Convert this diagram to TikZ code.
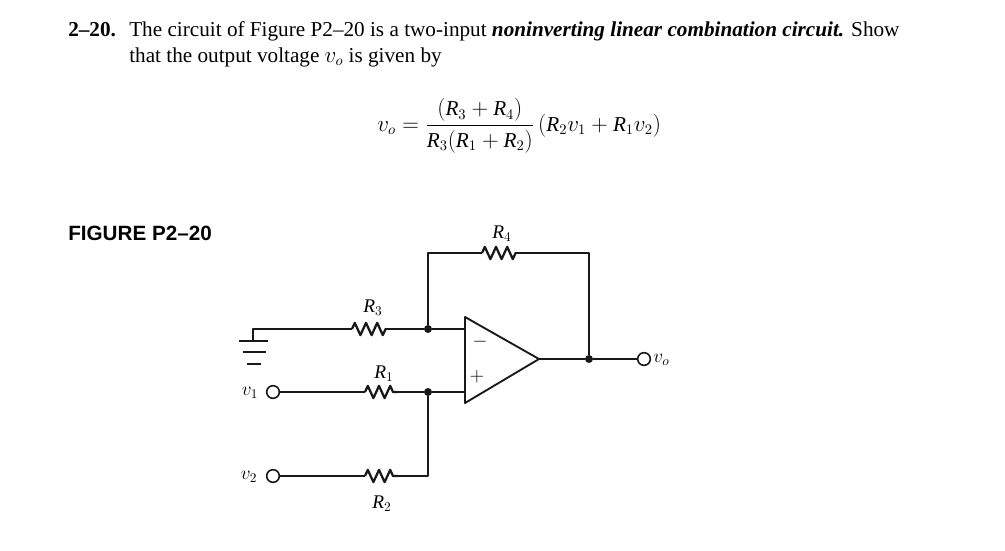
\documentclass[tikz,border=0pt]{standalone}
\usepackage{amsmath}
\usepackage{fontspec}
\setmainfont{Liberation Serif}
\setsansfont{Liberation Sans}
\usetikzlibrary{decorations.pathmorphing}
\newcommand{\Rn}[1]{\mathit{R}_{#1}}

\begin{document}
\begin{tikzpicture}[x=0.75pt,y=-0.75pt]
  \fill[white] (0,0) rectangle (1005,550);
  \useasboundingbox (0,0) rectangle (1005,550);

  %stili
  \tikzset{wire/.style={-, black!90, line width=1.2pt, line join=round}}
  \tikzset{res/.style={wire, line width=1.7pt, decorate, decoration={zigzag, segment length=8.4pt, amplitude=4.6pt}}}
  \tikzset{dot/.style={circle, fill=black!90, inner sep=0pt, minimum size=6pt}}
  \tikzset{port/.style={circle, draw=black!90, fill=white, line width=1.2pt, inner sep=0pt, minimum size=9.5pt}}
  \tikzset{txt/.style={inner sep=0pt, anchor=base west, font=\fontsize{15.9}{18}\selectfont, text=black}}
  \tikzset{lab/.style={inner sep=0pt, font=\fontsize{14.5}{16}\selectfont, text=black}}

  % def ground
  \coordinate (gnd) at (253,341);
  \coordinate (g1) at (239,341);
  \coordinate (g2) at (268,341);
  \coordinate (g3) at (243,352);
  \coordinate (g4) at (266,352);
  \coordinate (g5) at (247,364);
  \coordinate (g6) at (261,364);
  \coordinate (gtop) at (253,329);
  % def resistors
  \coordinate (r3a) at (352,329);
  \coordinate (r3b) at (386,329);
  \coordinate (r1a) at (365,392);
  \coordinate (r1b) at (398,392);
  \coordinate (r2a) at (365,476);
  \coordinate (r2b) at (398,476);
  \coordinate (r4a) at (482,253);
  \coordinate (r4b) at (516,253);
  % def corners
  \coordinate (c1) at (428,253);
  \coordinate (c2) at (589,253);
  \coordinate (c3) at (428,476);
  % def op amp
  \coordinate (ampt) at (465,317);
  \coordinate (ampb) at (465,403);
  \coordinate (ampo) at (539,359);
  \coordinate (ampm) at (465,329);
  \coordinate (ampp) at (465,392);

  % pallini
  \node[dot] (n3) at (428,329) {};
  \node[dot] (n1) at (428,392) {};
  \node[dot] (nout) at (589,359) {};
  \node[port] (vone) at (273,392) {};
  \node[port] (vtwo) at (273,476) {};
  \node[port] (vout) at (644,359) {};

  %fili
  \draw[wire] (g1) -- (g2);
  \draw[wire] (g3) -- (g4);
  \draw[wire] (g5) -- (g6);
  \draw[wire] (gnd) -- (gtop) -- (r3a);
  \draw[res] (r3a) -- (r3b);
  \draw[wire] (r3b) -- (n3);
  \draw[wire] (n3) -- (ampm);
  \draw[wire] (vone) -- (r1a);
  \draw[res] (r1a) -- (r1b);
  \draw[wire] (r1b) -- (n1);
  \draw[wire] (n1) -- (ampp);
  \draw[wire] (vtwo) -- (r2a);
  \draw[res] (r2a) -- (r2b);
  \draw[wire] (r2b) -- (c3) -- (n1);
  \draw[wire] (n3) -- (c1) -- (r4a);
  \draw[res] (r4a) -- (r4b);
  \draw[wire] (r4b) -- (c2) -- (nout);
  \draw[wire] (ampo) -- (nout);
  \draw[wire] (nout) -- (vout);
  \draw[wire, line width=1.4pt] (ampt) -- (ampb) -- (ampo) -- cycle;

  %etichette
  \node[lab] (lm) at (480,342) {$-$};
  \node[lab] (lp) at (477,377) {$+$};
  \node[lab] (lr3) at (373,308) {$\Rn{3}$};
  \node[lab] (lr1) at (384,374) {$\Rn{1}$};
  \node[lab] (lr2) at (382,504) {$\Rn{2}$};
  \node[lab] (lr4) at (502,234) {$\Rn{4}$};
  \node[lab] (lv1) at (250,393) {$v_1$};
  \node[lab] (lv2) at (249,477) {$v_2$};
  \node[lab, anchor=west] (lvo) at (653,360) {$v_o$};

  %testo
  \node[txt, font=\fontsize{15.9}{18}\selectfont\bfseries] (num) at (68,36) {2--20.};
  \node[txt] (l1) at (129,36) {The circuit of Figure P2--20 is a two-input \textbf{\textit{noninverting linear combination circuit.}} Show};
  \node[txt] (l2) at (129,62) {that the output voltage $v_o$ is given by};
  \node[txt, font=\fontsize{15.5}{18}\selectfont\sffamily\bfseries] (fig) at (68,240) {FIGURE P2--20};
  \node[txt, font=\fontsize{15.9}{18}\selectfont] (eq) at (377,131.5) {$v_o = \dfrac{(\Rn{3} + \Rn{4})}{\Rn{3}(\Rn{1} + \Rn{2})}\,(\Rn{2}v_1 + \Rn{1}v_2)$};
\end{tikzpicture}
\end{document}
